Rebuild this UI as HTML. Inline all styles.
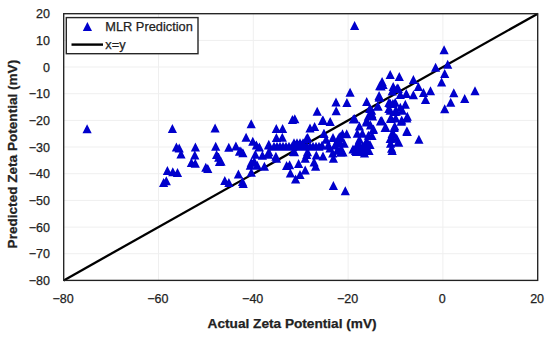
<!DOCTYPE html>
<html><head><meta charset="utf-8"><style>
html,body{margin:0;padding:0;background:#fff;}
svg{display:block;}
text{font-family:"Liberation Sans",sans-serif;fill:#222;stroke:#222;stroke-width:0.25px;}
</style></head><body>
<svg width="550" height="337" viewBox="0 0 550 337">
<rect width="550" height="337" fill="#fff"/>
<g stroke="#efefef" stroke-width="1"><line x1="158.5" y1="13.7" x2="158.5" y2="280.4"/><line x1="253.3" y1="13.7" x2="253.3" y2="280.4"/><line x1="348.1" y1="13.7" x2="348.1" y2="280.4"/><line x1="442.9" y1="13.7" x2="442.9" y2="280.4"/><line x1="63.7" y1="40.4" x2="537.7" y2="40.4"/><line x1="63.7" y1="67.0" x2="537.7" y2="67.0"/><line x1="63.7" y1="93.7" x2="537.7" y2="93.7"/><line x1="63.7" y1="120.4" x2="537.7" y2="120.4"/><line x1="63.7" y1="147.0" x2="537.7" y2="147.0"/><line x1="63.7" y1="173.7" x2="537.7" y2="173.7"/><line x1="63.7" y1="200.4" x2="537.7" y2="200.4"/><line x1="63.7" y1="227.1" x2="537.7" y2="227.1"/><line x1="63.7" y1="253.7" x2="537.7" y2="253.7"/></g>
<path d="M63.7 280.4L537.7 13.7" stroke="#000" stroke-width="2.3"/>
<path d="M82.5 133.3L87.1 124.3L91.7 133.3ZM350.0 29.9L354.6 20.9L359.2 29.9ZM167.8 132.9L172.4 123.9L177.0 132.9ZM210.5 132.6L215.1 123.6L219.7 132.6ZM171.8 151.6L176.4 142.6L181.0 151.6ZM174.6 152.5L179.2 143.5L183.8 152.5ZM176.4 158.6L181.0 149.6L185.6 158.6ZM190.8 151.6L195.4 142.6L200.0 151.6ZM190.2 159.5L194.8 150.5L199.4 159.5ZM186.8 167.0L191.4 158.0L196.0 167.0ZM190.7 167.7L195.3 158.7L199.9 167.7ZM201.2 171.8L205.8 162.8L210.4 171.8ZM203.2 172.9L207.8 163.9L212.4 172.9ZM162.8 175.1L167.4 166.1L172.0 175.1ZM168.2 176.3L172.8 167.3L177.4 176.3ZM172.9 176.9L177.5 167.9L182.1 176.9ZM159.0 186.9L163.6 177.9L168.2 186.9ZM161.7 185.3L166.3 176.3L170.9 185.3ZM211.1 150.7L215.7 141.7L220.3 150.7ZM212.0 158.9L216.6 149.9L221.2 158.9ZM214.1 161.8L218.7 152.8L223.3 161.8ZM214.9 166.1L219.5 157.1L224.1 166.1ZM224.2 151.7L228.8 142.7L233.4 151.7ZM231.3 150.5L235.9 141.5L240.5 150.5ZM234.9 155.8L239.5 146.8L244.1 155.8ZM238.3 157.3L242.9 148.3L247.5 157.3ZM241.5 141.8L246.1 132.8L250.7 141.8ZM246.6 128.3L251.2 119.3L255.8 128.3ZM248.2 145.7L252.8 136.7L257.4 145.7ZM251.8 149.5L256.4 140.5L261.0 149.5ZM254.8 151.6L259.4 142.6L264.0 151.6ZM264.0 149.6L268.6 140.6L273.2 149.6ZM236.2 155.5L240.8 146.5L245.4 155.5ZM250.7 158.7L255.3 149.7L259.9 158.7ZM257.8 159.7L262.4 150.7L267.0 159.7ZM263.8 158.7L268.4 149.7L273.0 158.7ZM271.9 162.7L276.5 153.7L281.1 162.7ZM246.7 166.7L251.3 157.7L255.9 166.7ZM249.7 165.7L254.3 156.7L258.9 165.7ZM245.7 169.8L250.3 160.8L254.9 169.8ZM252.7 169.8L257.3 160.8L261.9 169.8ZM259.8 170.8L264.4 161.8L269.0 170.8ZM246.7 176.8L251.3 167.8L255.9 176.8ZM233.8 178.5L238.4 169.5L243.0 178.5ZM220.2 185.0L224.8 176.0L229.4 185.0ZM224.3 187.0L228.9 178.0L233.5 187.0ZM237.9 186.1L242.5 177.1L247.1 186.1ZM238.6 187.9L243.2 178.9L247.8 187.9ZM216.4 165.7L221.0 156.7L225.6 165.7ZM287.8 124.1L292.4 115.1L297.0 124.1ZM290.2 123.3L294.8 114.3L299.4 123.3ZM271.7 133.1L276.3 124.1L280.9 133.1ZM278.0 133.1L282.6 124.1L287.2 133.1ZM271.8 142.1L276.4 133.1L281.0 142.1ZM277.7 141.8L282.3 132.8L286.9 141.8ZM312.6 115.7L317.2 106.7L321.8 115.7ZM331.4 106.5L336.0 97.5L340.6 106.5ZM331.6 115.3L336.2 106.3L340.8 115.3ZM317.8 125.0L322.4 116.0L327.0 125.0ZM325.6 126.0L330.2 117.0L334.8 126.0ZM318.4 124.5L323.0 115.5L327.6 124.5ZM305.4 132.5L310.0 123.5L314.6 132.5ZM310.0 131.1L314.6 122.1L319.2 131.1ZM319.2 137.9L323.8 128.9L328.4 137.9ZM303.1 142.0L307.7 133.0L312.3 142.0ZM328.4 142.0L333.0 133.0L337.6 142.0ZM334.4 142.0L339.0 133.0L343.6 142.0ZM264.2 148.7L268.8 139.7L273.4 148.7ZM264.2 156.3L268.8 147.3L273.4 156.3ZM271.3 160.7L275.9 151.7L280.5 160.7ZM289.9 156.3L294.5 147.3L299.1 156.3ZM302.9 156.3L307.5 147.3L312.1 156.3ZM311.7 159.5L316.3 150.5L320.9 159.5ZM301.9 143.0L306.5 134.0L311.1 143.0ZM282.0 170.0L286.6 161.0L291.2 170.0ZM285.0 169.3L289.6 160.3L294.2 169.3ZM285.8 177.5L290.4 168.5L295.0 177.5ZM291.0 183.4L295.6 174.4L300.2 183.4ZM294.0 167.9L298.6 158.9L303.2 167.9ZM295.4 179.0L300.0 170.0L304.6 179.0ZM300.6 174.5L305.2 165.5L309.8 174.5ZM309.5 166.4L314.1 157.4L318.7 166.4ZM311.0 170.8L315.6 161.8L320.2 170.8ZM302.1 159.0L306.7 150.0L311.3 159.0ZM300.6 162.7L305.2 153.7L309.8 162.7ZM318.4 160.4L323.0 151.4L327.6 160.4ZM328.8 162.7L333.4 153.7L338.0 162.7ZM328.1 157.5L332.7 148.5L337.3 157.5ZM336.3 156.7L340.9 147.7L345.5 156.7ZM351.8 156.0L356.4 147.0L361.0 156.0ZM288.8 156.0L293.4 147.0L298.0 156.0ZM328.8 190.1L333.4 181.1L338.0 190.1ZM340.7 195.3L345.3 186.3L349.9 195.3ZM319.4 137.7L324.0 128.7L328.6 137.7ZM321.5 143.7L326.1 134.7L330.7 143.7ZM317.4 149.8L322.0 140.8L326.6 149.8ZM323.5 149.8L328.1 140.8L332.7 149.8ZM335.6 140.7L340.2 131.7L344.8 140.7ZM337.9 138.2L342.5 129.2L347.1 138.2ZM342.1 138.2L346.7 129.2L351.3 138.2ZM333.4 143.5L338.0 134.5L342.6 143.5ZM336.4 153.5L341.0 144.5L345.6 153.5ZM338.4 156.5L343.0 147.5L347.6 156.5ZM325.4 152.5L330.0 143.5L334.6 152.5ZM330.4 149.5L335.0 140.5L339.6 149.5ZM334.6 147.8L339.2 138.8L343.8 147.8ZM339.6 147.8L344.2 138.8L348.8 147.8ZM332.6 154.8L337.2 145.8L341.8 154.8ZM337.6 155.8L342.2 146.8L346.8 155.8ZM354.8 130.6L359.4 121.6L364.0 130.6ZM361.8 126.6L366.4 117.6L371.0 126.6ZM365.9 129.6L370.5 120.6L375.1 129.6ZM368.9 133.6L373.5 124.6L378.1 133.6ZM352.7 137.7L357.3 128.7L361.9 137.7ZM357.8 137.7L362.4 128.7L367.0 137.7ZM363.8 139.7L368.4 130.7L373.0 139.7ZM354.8 143.7L359.4 134.7L364.0 143.7ZM361.8 145.7L366.4 136.7L371.0 145.7ZM351.7 150.8L356.3 141.8L360.9 150.8ZM357.8 151.8L362.4 142.8L367.0 151.8ZM363.8 148.8L368.4 139.8L373.0 148.8ZM348.7 123.5L353.3 114.5L357.9 123.5ZM363.8 120.5L368.4 111.5L373.0 120.5ZM367.9 120.5L372.5 111.5L377.1 120.5ZM375.9 125.6L380.5 116.6L385.1 125.6ZM386.0 122.5L390.6 113.5L395.2 122.5ZM391.1 122.5L395.7 113.5L400.3 122.5ZM397.1 124.5L401.7 115.5L406.3 124.5ZM402.2 122.5L406.8 113.5L411.4 122.5ZM381.0 131.6L385.6 122.6L390.2 131.6ZM390.1 130.6L394.7 121.6L399.3 130.6ZM402.2 135.6L406.8 126.6L411.4 135.6ZM414.3 143.7L418.9 134.7L423.5 143.7ZM388.1 136.7L392.7 127.7L397.3 136.7ZM387.0 141.7L391.6 132.7L396.2 141.7ZM392.1 142.7L396.7 133.7L401.3 142.7ZM394.1 146.7L398.7 137.7L403.3 146.7ZM386.0 147.8L390.6 138.8L395.2 147.8ZM387.0 152.8L391.6 143.8L396.2 152.8ZM387.6 155.1L392.2 146.1L396.8 155.1ZM365.4 149.0L370.0 140.0L374.6 149.0ZM367.4 140.0L372.0 131.0L376.6 140.0ZM368.4 133.9L373.0 124.9L377.6 133.9ZM350.9 155.0L355.5 146.0L360.1 155.0ZM355.9 156.0L360.5 147.0L365.1 156.0ZM360.4 153.0L365.0 144.0L369.6 153.0ZM354.2 148.0L358.8 139.0L363.4 148.0ZM359.9 157.5L364.5 148.5L369.1 157.5ZM364.4 155.0L369.0 146.0L373.6 155.0ZM348.4 153.5L353.0 144.5L357.6 153.5ZM345.5 96.8L350.1 87.8L354.7 96.8ZM342.3 106.9L346.9 97.9L351.5 106.9ZM362.1 105.9L366.7 96.9L371.3 105.9ZM365.1 112.9L369.7 103.9L374.3 112.9ZM367.1 118.0L371.7 109.0L376.3 118.0ZM350.0 123.0L354.6 114.0L359.2 123.0ZM362.1 125.0L366.7 116.0L371.3 125.0ZM375.2 101.8L379.8 92.8L384.4 101.8ZM373.2 109.9L377.8 100.9L382.4 109.9ZM384.3 106.9L388.9 97.9L393.5 106.9ZM388.3 107.9L392.9 98.9L397.5 107.9ZM384.3 112.9L388.9 103.9L393.5 112.9ZM390.4 116.0L395.0 107.0L399.6 116.0ZM386.3 123.0L390.9 114.0L395.5 123.0ZM377.2 125.0L381.8 116.0L386.4 125.0ZM380.5 131.9L385.1 122.9L389.7 131.9ZM389.6 131.9L394.2 122.9L398.8 131.9ZM387.6 137.9L392.2 128.9L396.8 137.9ZM402.7 135.9L407.3 126.9L411.9 135.9ZM385.6 143.0L390.2 134.0L394.8 143.0ZM393.7 146.0L398.3 137.0L402.9 146.0ZM367.0 114.7L371.6 105.7L376.2 114.7ZM367.4 119.8L372.0 110.8L376.6 119.8ZM402.7 120.8L407.3 111.8L411.9 120.8ZM386.6 122.8L391.2 113.8L395.8 122.8ZM396.7 125.8L401.3 116.8L405.9 125.8ZM397.7 114.7L402.3 105.7L406.9 114.7ZM391.6 115.7L396.2 106.7L400.8 115.7ZM385.6 114.7L390.2 105.7L394.8 114.7ZM373.5 110.7L378.1 101.7L382.7 110.7ZM395.7 111.7L400.3 102.7L404.9 111.7ZM400.7 108.7L405.3 99.7L409.9 108.7ZM390.6 106.7L395.2 97.7L399.8 106.7ZM385.6 107.7L390.2 98.7L394.8 107.7ZM374.5 101.6L379.1 92.6L383.7 101.6ZM439.5 54.3L444.1 45.3L448.7 54.3ZM431.0 71.8L435.6 62.8L440.2 71.8ZM443.1 68.8L447.7 59.8L452.3 68.8ZM440.1 77.9L444.7 68.9L449.3 77.9ZM437.0 86.6L441.6 77.6L446.2 86.6ZM385.6 78.9L390.2 69.9L394.8 78.9ZM394.7 80.9L399.3 71.9L403.9 80.9ZM377.5 86.0L382.1 77.0L386.7 86.0ZM378.5 89.0L383.1 80.0L387.7 89.0ZM375.1 90.3L379.7 81.3L384.3 90.3ZM408.8 83.9L413.4 74.9L418.0 83.9ZM388.6 91.0L393.2 82.0L397.8 91.0ZM393.7 93.0L398.3 84.0L402.9 93.0ZM413.8 91.0L418.4 82.0L423.0 91.0ZM425.9 95.3L430.5 86.3L435.1 95.3ZM418.9 97.1L423.5 88.1L428.1 97.1ZM401.7 97.9L406.3 88.9L410.9 97.9ZM408.8 99.3L413.4 90.3L418.0 99.3ZM374.5 100.1L379.1 91.1L383.7 100.1ZM395.7 98.9L400.3 89.9L404.9 98.9ZM449.2 97.3L453.8 88.3L458.4 97.3ZM470.4 95.3L475.0 86.3L479.6 95.3ZM460.1 103.0L464.7 94.0L469.3 103.0ZM446.1 106.7L450.7 97.7L455.3 106.7ZM440.1 113.3L444.7 104.3L449.3 113.3ZM420.9 104.0L425.5 95.0L430.1 104.0ZM387.6 95.6L392.2 86.6L396.8 95.6ZM392.6 92.5L397.2 83.5L401.8 92.5ZM376.5 90.5L381.1 81.5L385.7 90.5ZM269.4 150.7L274.0 141.7L278.6 150.7ZM272.4 150.7L277.0 141.7L281.6 150.7ZM275.4 150.7L280.0 141.7L284.6 150.7ZM278.4 150.7L283.0 141.7L287.6 150.7ZM281.4 150.7L286.0 141.7L290.6 150.7ZM284.4 150.7L289.0 141.7L293.6 150.7ZM287.4 150.7L292.0 141.7L296.6 150.7ZM290.4 150.7L295.0 141.7L299.6 150.7ZM293.4 150.7L298.0 141.7L302.6 150.7ZM296.4 150.7L301.0 141.7L305.6 150.7ZM299.4 150.7L304.0 141.7L308.6 150.7ZM302.4 150.7L307.0 141.7L311.6 150.7ZM305.4 150.7L310.0 141.7L314.6 150.7ZM308.4 150.7L313.0 141.7L317.6 150.7ZM311.4 150.7L316.0 141.7L320.6 150.7ZM314.4 150.7L319.0 141.7L323.6 150.7ZM289.4 147.3L294.0 138.3L298.6 147.3ZM292.4 147.3L297.0 138.3L301.6 147.3ZM295.4 147.3L300.0 138.3L304.6 147.3ZM298.4 147.3L303.0 138.3L307.6 147.3Z" fill="#0000cc"/>
<rect x="63.7" y="13.7" width="474.0" height="266.7" fill="none" stroke="#222" stroke-width="1.35"/>
<rect x="66.3" y="17.6" width="131.7" height="36.1" fill="#fff" stroke="#262626" stroke-width="1.4"/>
<path d="M82.8 31L87.4 22.1L92 31Z" fill="#0000cc"/>
<line x1="71.5" y1="44.6" x2="103" y2="44.6" stroke="#000" stroke-width="2.4"/>
<g font-size="12.8">
<text x="105.3" y="31">MLR Prediction</text>
<text x="105.3" y="48.6">x=y</text>
</g>
<g font-size="12.5"><text x="49.9" y="18.2" text-anchor="end">20</text><text x="49.9" y="44.9" text-anchor="end">10</text><text x="49.9" y="71.5" text-anchor="end">0</text><text x="49.9" y="98.2" text-anchor="end">−10</text><text x="49.9" y="124.9" text-anchor="end">−20</text><text x="49.9" y="151.5" text-anchor="end">−30</text><text x="49.9" y="178.2" text-anchor="end">−40</text><text x="49.9" y="204.9" text-anchor="end">−50</text><text x="49.9" y="231.6" text-anchor="end">−60</text><text x="49.9" y="258.2" text-anchor="end">−70</text><text x="49.9" y="284.9" text-anchor="end">−80</text><text x="63.1" y="303.3" text-anchor="middle">−80</text><text x="157.9" y="303.3" text-anchor="middle">−60</text><text x="252.7" y="303.3" text-anchor="middle">−40</text><text x="347.5" y="303.3" text-anchor="middle">−20</text><text x="442.3" y="303.3" text-anchor="middle">0</text><text x="537.1" y="303.3" text-anchor="middle">20</text></g>
<text x="207.6" y="328.4" font-size="13" font-weight="bold" fill="#111" textLength="169" lengthAdjust="spacingAndGlyphs">Actual Zeta Potential (mV)</text>
<text transform="translate(17 248.4) rotate(-90)" x="0" y="0" font-size="13" font-weight="bold" fill="#111" textLength="188.6" lengthAdjust="spacingAndGlyphs">Predicted Zeta Potential (mV)</text>
</svg>
</body></html>
